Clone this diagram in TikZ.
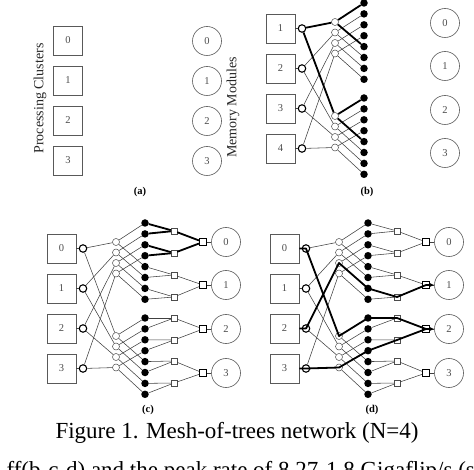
\documentclass[tikz,border=0pt]{standalone}
\usepackage{fontspec}
\setmainfont{Liberation Serif}
\usetikzlibrary{arrows.meta}

\tikzset{
  cluster/.style={draw=black!65, line width=0.6pt, minimum size=29pt, inner sep=0pt,
    text=black!70, font=\fontsize{10.5}{10.5}\selectfont},
  module/.style={circle, draw=black!65, line width=0.6pt, minimum size=29pt, inner sep=0pt,
    text=black!70, font=\fontsize{10.5}{10.5}\selectfont},
  outroot/.style={circle, draw, line width=1.1pt, fill=white, minimum size=7.5pt, inner sep=0pt},
  outnode/.style={circle, draw=black!70, line width=0.5pt, fill=white, minimum size=7pt, inner sep=0pt},
  leaf/.style={circle, fill=black, minimum size=7.5pt, inner sep=0pt},
  innode/.style={draw=black!70, line width=0.5pt, fill=white, minimum size=6pt, inner sep=0pt},
  inroot/.style={draw, line width=1.1pt, fill=white, minimum size=7pt, inner sep=0pt},
  wire/.style={draw=black!75, line width=0.55pt},
  hot/.style={draw=black, line width=1.8pt, line join=round},
  sublabel/.style={font=\bfseries\fontsize{10.5}{10.5}\selectfont},
  sidetext/.style={rotate=90, font=\fontsize{14}{14}\selectfont, text=black!85}
}

% processors, fan-out trees and the leaves
\newcommand{\fanout}[2]{%
  \foreach \p in {0,...,3}{
    \pgfmathtruncatemacro{\lbl}{\p+#2}
    \node[cluster] (#1-pc\p) at (61.5,248.5+40*\p) {\lbl};
    \node[outroot] (#1-rt\p) at (83,248.5+40*\p) {};
    \node[outnode] (#1-top\p) at (116,242+10.5*\p) {};
    \node[outnode] (#1-bot\p) at (116,336+10.5*\p) {};
  }
  \foreach \q in {0,...,7}{
    \pgfmathtruncatemacro{\qq}{\q+8}
    \node[leaf] (#1-lf\q) at (145,223+10.9*\q) {};
    \node[leaf] (#1-lf\qq) at (145,318+10.9*\q) {};
  }
  \foreach \p in {0,...,3}{
    \pgfmathtruncatemacro{\ia}{\p+4}
    \pgfmathtruncatemacro{\ib}{\p+8}
    \pgfmathtruncatemacro{\ic}{\p+12}
    \draw[wire] (#1-pc\p) -- (#1-rt\p);
    \draw[wire] (#1-rt\p) -- (#1-top\p);
    \draw[wire] (#1-rt\p) -- (#1-bot\p);
    \draw[wire] (#1-top\p) -- (#1-lf\p);
    \draw[wire] (#1-top\p) -- (#1-lf\ia);
    \draw[wire] (#1-bot\p) -- (#1-lf\ib);
    \draw[wire] (#1-bot\p) -- (#1-lf\ic);
  }
}

% fan-in trees and the memory modules
\newcommand{\fanin}[1]{%
  \foreach \j/\yy in {0/231,1/253,2/275,3/297,4/318,5/340,6/361,7/383}{
    \node[innode] (#1-fin\j) at (174,\yy) {};
  }
  \foreach \m/\yy in {0/242,1/285,2/329,3/373}{
    \node[inroot] (#1-fr\m) at (203,\yy) {};
    \node[module] (#1-mem\m) at (226,\yy) {\m};
    \draw[wire] (#1-fr\m) -- (#1-mem\m);
  }
  \foreach \q in {0,...,15}{
    \pgfmathtruncatemacro{\jj}{\q/2}
    \draw[wire] (#1-lf\q) -- (#1-fin\jj);
  }
  \foreach \j in {0,...,7}{
    \pgfmathtruncatemacro{\mm}{\j/2}
    \draw[wire] (#1-fin\j) -- (#1-fr\mm);
  }
}

\begin{document}
\begin{tikzpicture}[x=1pt, y=-1pt]
  \useasboundingbox (0,0) rectangle (474,470);

  % (a)
  \foreach \p in {0,...,3}{
    \node[cluster] (a-pc\p) at (68,40.5+40*\p) {\p};
    \node[module] (a-mem\p) at (207,41+40*\p) {\p};
  }
  \node[sidetext] (a-pctext) at (40,98.5) {Processing Clusters};
  \node[sidetext] (a-memtext) at (233,107.5) {Memory Modules};
  \node[sublabel] (a-lbl) at (140,192) {(a)};

  % (b)
  \begin{scope}[shift={(219,-220)}]
    \fanout{b}{1}
    \draw[hot] (b-rt0) -- (b-top0);
    \draw[hot] (b-rt0) -- (b-bot0);
    \draw[hot] (b-top0) -- (b-lf0);
    \draw[hot] (b-top0) -- (b-lf4);
    \draw[hot] (b-bot0) -- (b-lf8);
    \draw[hot] (b-bot0) -- (b-lf12);
  \end{scope}
  \foreach \m/\yy in {0/23,1/66,2/110,3/153}{
    \node[module] (b-mem\m) at (445,\yy) {\m};
  }
  \node[sublabel] (b-lbl) at (367,192) {(b)};

  % (c)
  \fanout{c}{0}
  \fanin{c}
  \draw[hot] (c-lf0) -- (c-fin0);
  \draw[hot] (c-lf1) -- (c-fin0);
  \draw[hot] (c-lf2) -- (c-fin1);
  \draw[hot] (c-lf3) -- (c-fin1);
  \draw[hot] (c-fin0) -- (c-fr0);
  \draw[hot] (c-fin1) -- (c-fr0);
  \node[sublabel] (c-lbl) at (148,410) {(c)};

  % (d)
  \begin{scope}[shift={(223,0)}]
    \fanout{d}{0}
    \fanin{d}
    \draw[hot] (d-pc0.east) -- (d-rt0.center) -- (d-bot0.center) -- (d-lf8.center)
      -- (d-fin4.center) -- (d-fr2.center);
    \draw[hot] (d-pc2.east) -- (d-rt2.center) -- (d-top2.center) -- (d-lf6.center)
      -- (d-fin3.center) -- (d-fr1.center);
    \draw[hot] (d-pc3.east) -- (d-rt3.center) -- (d-bot3.center) -- (d-lf11.center)
      -- (d-fin5.center) -- (d-fr2.center);
    \draw[hot, -{Latex[length=5pt,width=5pt]}] (d-fr1.center) -- (d-mem1.west);
    \draw[hot, -{Latex[length=5pt,width=5pt]}] (d-fr2.center) -- (d-mem2.west);
  \end{scope}
  \node[sublabel] (d-lbl) at (372,410) {(d)};

  % caption
  \node[font=\fontsize{23}{23}\selectfont] (caption) at (237,433)
    {Figure 1. Mesh-of-trees network (N=4)};
  \node[font=\fontsize{23}{23}\selectfont, anchor=base west] (nextline) at (3,477)
    {ff(b-c-d) and the peak rate of 8.27-1.8 Gigaflip/s (s};
\end{tikzpicture}
\end{document}
